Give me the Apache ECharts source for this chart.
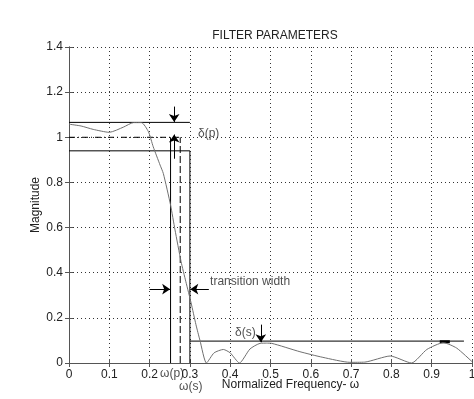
<!DOCTYPE html>
<html>
<head>
<meta charset="utf-8">
<script src="https://cdn.jsdelivr.net/npm/echarts@6/dist/echarts.min.js"></script>
<style>
html, body { margin: 0; padding: 0; background: #fff; }
#chart { width: 474px; height: 399px; }
</style>
</head>
<body>
<div id="chart"></div>
<script>
'use strict';

// magnitude response
var freq = [0, 0.03, 0.06, 0.1, 0.135, 0.16, 0.18, 0.197, 0.209, 0.226, 0.234, 0.252, 0.263, 0.278,
    0.29, 0.303, 0.315, 0.325, 0.341, 0.36, 0.383, 0.40, 0.423, 0.449, 0.474, 0.49, 0.503, 0.573,
    0.63, 0.697, 0.734, 0.797, 0.85, 0.888, 0.929, 0.962, 1.0];
var magnitude = [1.058, 1.05, 1.035, 1.022, 1.045, 1.065, 1.065, 1.025, 0.958, 0.877, 0.84, 0.70, 0.59, 0.45,
    0.36, 0.266, 0.17, 0.10, 0.0, 0.045, 0.06, 0.045, 0.0, 0.062, 0.087, 0.088, 0.087, 0.05,
    0.025, 0.003, 0.004, 0.031, 0.0, 0.06, 0.09, 0.066, 0.006];

// tolerance lines
var passUpper = [[0, 1.066], [0.3, 1.066]];
var passLower = [[0, 0.94], [0.3, 0.94]];
var unityLine = [[0, 1.0], [0.28, 1.0]];
var passEdge = [[0.252, 0], [0.252, 1.0]];
var cutoffLine = [[0.276, 0], [0.276, 1.0]];
var stopEdge = [[0.3, 0], [0.3, 0.94]];
var stopLine = [[0.3, 0.097], [0.98, 0.097]];
var peakMark = [[0.92, 0.094], [0.945, 0.094]];

// arrows: [from, to]
var arrows = [
    [[0.261, 1.136], [0.261, 1.068]],
    [[0.261, 0.905], [0.261, 1.012]],
    [[0.2, 0.327], [0.251, 0.327]],
    [[0.347, 0.327], [0.301, 0.327]],
    [[0.476, 0.17], [0.476, 0.092]]
];

// annotation texts
var notes = [
    {value: [0.32, 1.015], text: 'δ(p)'},
    {value: [0.412, 0.134], text: 'δ(s)'},
    {value: [0.35, 0.36], text: 'transition width'},
    {value: [0.226, -0.046], text: 'ω(p)'},
    {value: [0.273, -0.105], text: 'ω(s)'}
];

var FONT = 'Liberation Sans, Arial, sans-serif';

var chart = echarts.init(document.getElementById('chart'));

function segment(pts, dash, width) {
    return {
        type: 'line',
        data: pts,
        symbol: 'none',
        silent: true,
        lineStyle: {color: '#000', width: width || 1, type: dash || 'solid'},
        z: 3
    };
}

function tickLabel(v) {
    return (v === 0 || v === 1) ? String(v) : v.toFixed(1);
}

var curve = [];
for (var i = 0; i < freq.length; i++) {
    curve.push([freq[i], magnitude[i]]);
}

var option = {
    animation: false,
    backgroundColor: '#fff',
    title: {
        text: 'FILTER PARAMETERS',
        left: 270,
        textAlign: 'center',
        top: 25,
        textStyle: {fontFamily: FONT, fontSize: 12, fontWeight: 'normal', color: '#222'}
    },
    grid: {left: 69, right: 2, top: 47, bottom: 36, outerBoundsMode: 'none', containLabel: false},
    xAxis: [
        {
            type: 'value',
            min: 0,
            max: 1,
            interval: 0.1,
            name: 'Normalized Frequency- ω',
            nameLocation: 'middle',
            nameGap: 16,
            nameMoveOverlap: false,
            nameTextStyle: {fontFamily: FONT, fontSize: 12, color: '#222', padding: [0, 0, 0, 40]},
            axisLine: {lineStyle: {color: '#555', width: 1}},
            axisTick: {inside: true, length: 4, lineStyle: {color: '#555'}},
            axisLabel: {fontFamily: FONT, fontSize: 12, color: '#222', margin: 6, formatter: tickLabel},
            splitLine: {show: true, lineStyle: {color: '#333', type: [1, 3], width: 1}}
        },
        {
            type: 'value', min: 0, max: 1, interval: 0.1, position: 'top',
            axisLine: {show: true, lineStyle: {color: '#555', width: 1}},
            axisTick: {show: true, inside: true, length: 4, lineStyle: {color: '#555'}},
            axisLabel: {show: false},
            splitLine: {show: false}
        }
    ],
    yAxis: [
        {
            type: 'value',
            min: 0,
            max: 1.4,
            interval: 0.2,
            name: 'Magnitude',
            nameLocation: 'middle',
            nameGap: 27,
            nameMoveOverlap: false,
            nameTextStyle: {fontFamily: FONT, fontSize: 12, color: '#222'},
            axisLine: {show: true, lineStyle: {color: '#555', width: 1}},
            axisTick: {show: true, inside: true, length: 4, lineStyle: {color: '#555'}},
            axisLabel: {fontFamily: FONT, fontSize: 12, color: '#222', margin: 6, formatter: tickLabel},
            splitLine: {show: true, lineStyle: {color: '#333', type: [1, 3], width: 1}}
        },
        {
            type: 'value', min: 0, max: 1.4, interval: 0.2, position: 'right',
            axisLine: {show: true, lineStyle: {color: '#555', width: 1}},
            axisTick: {show: true, inside: true, length: 4, lineStyle: {color: '#555'}},
            axisLabel: {show: false},
            splitLine: {show: false}
        }
    ],
    series: [
        {
            name: 'response',
            type: 'line',
            data: curve,
            symbol: 'none',
            smooth: 0.2,
            lineStyle: {color: '#707070', width: 1},
            z: 4
        },
        segment(passUpper),
        segment(passLower),
        segment(unityLine, [6, 3, 1, 3]),
        segment(passEdge),
        segment(cutoffLine, [7, 3]),
        segment(stopEdge),
        segment(stopLine),
        segment(peakMark, 'solid', 3),
        {
            type: 'lines',
            coordinateSystem: 'cartesian2d',
            symbol: ['none', 'arrow'],
            symbolSize: 8,
            lineStyle: {color: '#000', width: 1, opacity: 1},
            data: arrows.map(function (a) { return {coords: a}; }),
            z: 5
        },
        {
            type: 'scatter',
            symbolSize: 0,
            clip: false,
            silent: true,
            data: notes.map(function (n) { return {value: n.value, name: n.text}; }),
            label: {
                show: true,
                position: [0, 0],
                align: 'left',
                verticalAlign: 'middle',
                fontFamily: FONT,
                fontSize: 12,
                color: '#222',
                formatter: function (p) { return p.name; }
            },
            z: 6
        }
    ]
};

chart.setOption(option);
</script>
</body>
</html>
